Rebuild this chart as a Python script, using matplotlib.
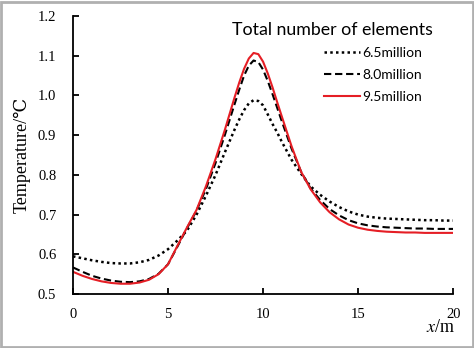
import matplotlib
matplotlib.use("Agg")
import matplotlib.pyplot as plt
import numpy as np

# Temperature profiles along x for three mesh sizes
x = np.array([0, 0.5, 1, 1.5, 2, 2.5, 3, 3.5, 4, 4.5, 5, 5.5, 6, 6.5, 7, 7.5,
              8, 8.25, 8.5, 8.75, 9, 9.25, 9.5, 9.75, 10, 10.25, 10.5, 10.75,
              11, 11.5, 12, 12.5, 13, 13.5, 14, 14.5, 15, 15.5, 16, 16.5, 17,
              17.5, 18, 18.5, 19, 19.5, 20])

t_65 = np.array([0.595, 0.590, 0.585, 0.581, 0.578, 0.577, 0.577, 0.580, 0.586,
                 0.597, 0.613, 0.635, 0.660, 0.700, 0.748, 0.800,
                 0.858, 0.886, 0.914, 0.940, 0.963, 0.980, 0.988, 0.986, 0.975,
                 0.952, 0.928, 0.906,
                 0.882, 0.838, 0.803, 0.771, 0.750, 0.733, 0.719, 0.708, 0.700,
                 0.695, 0.692, 0.690, 0.689, 0.688, 0.687, 0.686, 0.686, 0.685,
                 0.685])

t_80 = np.array([0.567, 0.556, 0.546, 0.539, 0.534, 0.531, 0.530, 0.532, 0.538,
                 0.551, 0.575, 0.620, 0.666, 0.710, 0.765, 0.830,
                 0.902, 0.940, 0.978, 1.015, 1.050, 1.075, 1.088, 1.084, 1.065,
                 1.036, 1.003, 0.968,
                 0.933, 0.866, 0.808, 0.766, 0.737, 0.714, 0.698, 0.686, 0.678,
                 0.673, 0.670, 0.668, 0.667, 0.666, 0.665, 0.665, 0.664, 0.664,
                 0.664])

t_95 = np.array([0.556, 0.546, 0.538, 0.532, 0.528, 0.526, 0.526, 0.529, 0.536,
                 0.550, 0.575, 0.622, 0.668, 0.712, 0.772, 0.840,
                 0.915, 0.955, 0.995, 1.033, 1.067, 1.093, 1.107, 1.104, 1.085,
                 1.055, 1.020, 0.982,
                 0.945, 0.872, 0.808, 0.764, 0.731, 0.706, 0.688, 0.675, 0.667,
                 0.662, 0.659, 0.657, 0.656, 0.655, 0.655, 0.654, 0.654, 0.654,
                 0.654])

labels = ["6.5million", "8.0million", "9.5million"]

serif = ["Liberation Serif", "DejaVu Serif"]

fig = plt.figure(figsize=(4.74, 3.48), dpi=100)
ax = fig.add_axes([0.154, 0.155, 0.802, 0.799])

ax.plot(x, t_65, color="black", linestyle=(0, (1, 1.3)), linewidth=1.8, label=labels[0])
ax.plot(x, t_80, color="black", linestyle=(0, (3.5, 1.8)), linewidth=1.5, label=labels[1])
ax.plot(x, t_95, color="#e51e25", linestyle="-", linewidth=1.5, label=labels[2])

ax.set_xlim(0, 20)
ax.set_ylim(0.5, 1.2)
ax.set_xticks([0, 5, 10, 15, 20])
ax.set_yticks(np.arange(0.5, 1.21, 0.1))
ax.yaxis.set_major_formatter(matplotlib.ticker.FormatStrFormatter("%.1f"))

for s in ["top", "right"]:
    ax.spines[s].set_visible(False)
for s in ["left", "bottom"]:
    ax.spines[s].set_linewidth(1.3)

ax.tick_params(direction="in", length=4, width=1.3, labelsize=10.5)
ax.tick_params(axis="y", pad=12)
ax.tick_params(axis="x", pad=10)
for lab in ax.get_xticklabels() + ax.get_yticklabels():
    lab.set_family(serif)

ax.set_ylabel("Temperature/\u2103", family=serif, fontsize=13, labelpad=5)
fig.text(0.96, 0.045, "$\\it{x}$/m", ha="right", va="baseline",
         family=serif, fontsize=13, math_fontfamily="stix")

fig.text(0.49, 0.913, "Total number of elements", family="Lato", fontsize=12.8,
         ha="left", va="center")
ax.legend(loc="upper left", bbox_to_anchor=(0.645, 0.91), frameon=False,
          prop={"family": "Lato", "size": 10}, handlelength=2.6,
          handletextpad=0.15, labelspacing=0.72, borderaxespad=0)

# thin grey frame around the figure
fig.add_artist(plt.Rectangle((0.002, 0.004), 0.996, 0.99, transform=fig.transFigure,
                             fill=False, edgecolor="#b0b0b0", linewidth=2))

fig.savefig("out.png", dpi=100)
